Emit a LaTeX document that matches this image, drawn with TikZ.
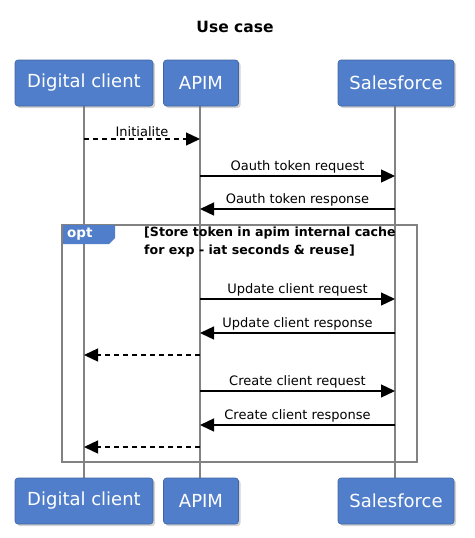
\documentclass[tikz,border=0pt]{standalone}
\usepackage{fontspec}
\setmainfont{DejaVu Sans}
\usetikzlibrary{arrows.meta,shadows}
\definecolor{boxblue}{RGB}{80,126,202}
\definecolor{linegray}{RGB}{130,130,130}
\tikzset{
  actor/.style={draw=boxblue!80!black, line width=0.6pt, fill=boxblue, rounded corners=3pt,
    text=white, font=\fontsize{18}{20}\selectfont, minimum height=46pt, inner sep=0pt,
    drop shadow={shadow xshift=2pt, shadow yshift=-2pt, opacity=0.35}},
  life/.style={draw=linegray, line width=1.4pt},
  msg/.style={line width=1.3pt, -{Triangle[length=14pt,width=13pt]}},
  ret/.style={msg, dash pattern=on 5pt off 4pt},
  lbl/.style={font=\fontsize{13}{15}\selectfont, inner sep=1pt},
}
\begin{document}
\begin{tikzpicture}[x=1pt,y=-1pt]
\useasboundingbox (0,0) rectangle (474,538);
\node[font=\bfseries\fontsize{15.5}{17}\selectfont] (title) at (235,27) {Use case};
% lifelines
\coordinate (dcT) at (84,106); \coordinate (dcB) at (84,478);
\coordinate (apT) at (200,106); \coordinate (apB) at (200,478);
\coordinate (sfT) at (395,106); \coordinate (sfB) at (395,478);
\draw[life] (dcT) -- (dcB);
\draw[life] (apT) -- (apB);
\draw[life] (sfT) -- (sfB);
% actors
\node[actor, minimum width=138pt] (dc1) at (84,83) {Digital client};
\node[actor, minimum width=75pt] (ap1) at (201,83) {APIM};
\node[actor, minimum width=116pt] (sf1) at (396,83) {Salesforce};
\node[actor, minimum width=138pt] (dc2) at (84,501) {Digital client};
\node[actor, minimum width=75pt] (ap2) at (201,501) {APIM};
\node[actor, minimum width=116pt] (sf2) at (396,501) {Salesforce};
% opt frame
\draw[draw=linegray, line width=1.4pt] (62,225) rectangle (417,462);
\fill[boxblue] (62,225) -- (115,225) -- (115,238) -- (109,244) -- (62,244) -- cycle;
\draw[draw=linegray, line width=1.4pt] (62,225) -- (62,244);
\node[anchor=west, text=white, font=\bfseries\fontsize{13.5}{15}\selectfont, inner sep=0pt] (optl) at (67,234) {opt};
\node[anchor=north west, align=left, font=\bfseries\fontsize{12.6}{18}\selectfont, inner sep=0pt] (guard) at (144,227)
  {[Store token in apim internal cache\\for exp - iat seconds \& reuse]};
% messages
\coordinate (a1) at (84,139); \coordinate (b1) at (200,139);
\draw[ret] (a1) -- node[lbl, above=1pt] {Initialite} (b1);
\coordinate (a2) at (200,176); \coordinate (b2) at (395,176);
\draw[msg] (a2) -- node[lbl, above=1pt] {Oauth token request} (b2);
\coordinate (a3) at (395,209); \coordinate (b3) at (200,209);
\draw[msg] (a3) -- node[lbl, above=1pt] {Oauth token response} (b3);
\coordinate (a4) at (200,299); \coordinate (b4) at (395,299);
\draw[msg] (a4) -- node[lbl, above=1pt] {Update client request} (b4);
\coordinate (a5) at (395,333); \coordinate (b5) at (200,333);
\draw[msg] (a5) -- node[lbl, above=1pt] {Update client response} (b5);
\coordinate (a6) at (200,355); \coordinate (b6) at (84,355);
\draw[ret] (a6) -- (b6);
\coordinate (a7) at (200,391); \coordinate (b7) at (395,391);
\draw[msg] (a7) -- node[lbl, above=1pt] {Create client request} (b7);
\coordinate (a8) at (395,425); \coordinate (b8) at (200,425);
\draw[msg] (a8) -- node[lbl, above=1pt] {Create client response} (b8);
\coordinate (a9) at (200,447); \coordinate (b9) at (84,447);
\draw[ret] (a9) -- (b9);
\end{tikzpicture}
\end{document}
